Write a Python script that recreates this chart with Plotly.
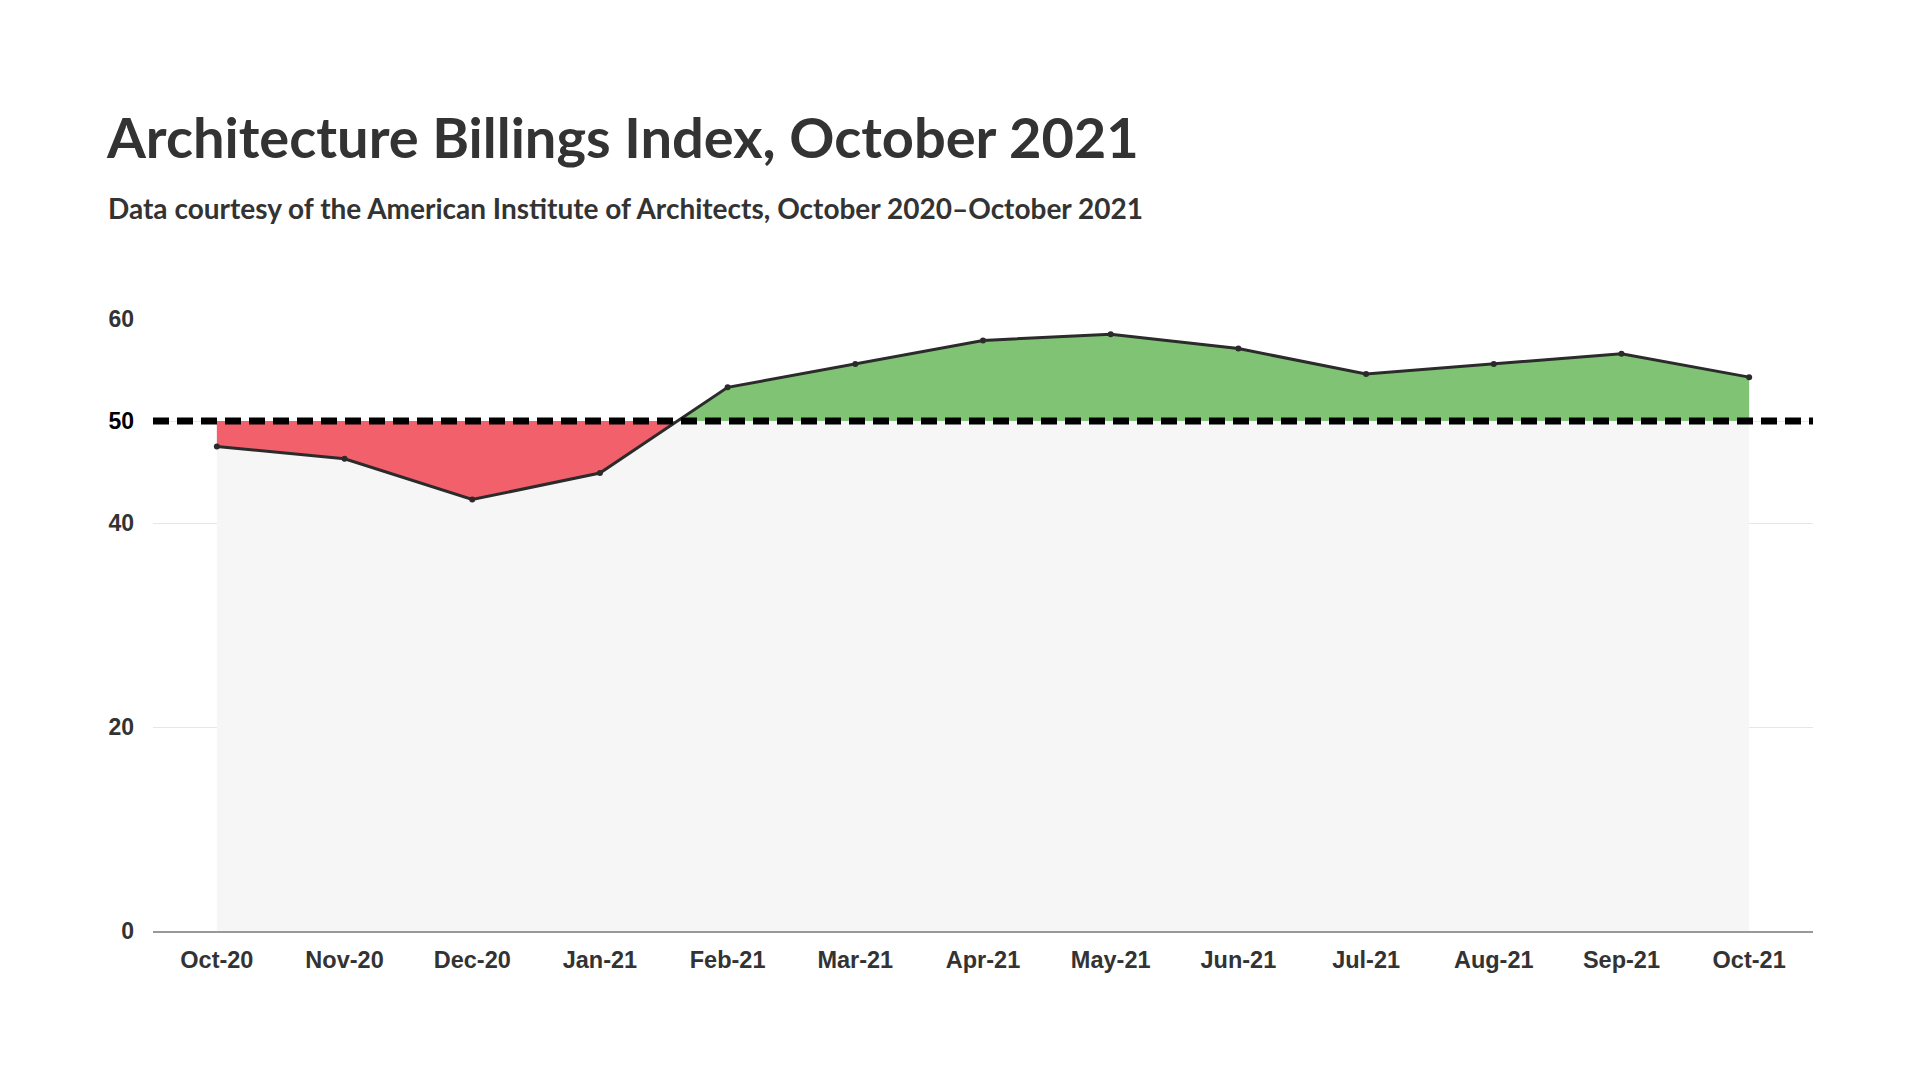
import plotly.graph_objects as go

# ABI values, Oct 2020 - Oct 2021
months = ["Oct-20", "Nov-20", "Dec-20", "Jan-21", "Feb-21", "Mar-21", "Apr-21",
          "May-21", "Jun-21", "Jul-21", "Aug-21", "Sep-21", "Oct-21"]
abi = [47.5, 46.3, 42.3, 44.9, 53.3, 55.6, 57.9, 58.5, 57.1, 54.6, 55.6, 56.6, 54.3]
threshold = 50
y_ticks = [0, 20, 40, 50, 60]

idx = list(range(len(months)))

# split the series where it crosses the 50 line
xs, ys = [], []
for i in idx:
    if i > 0 and (abi[i - 1] - threshold) * (abi[i] - threshold) < 0:
        t = (threshold - abi[i - 1]) / (abi[i] - abi[i - 1])
        xs.append(i - 1 + t)
        ys.append(threshold)
    xs.append(i)
    ys.append(abi[i])

below_x = [x for x, y in zip(xs, ys) if y <= threshold]
below_y = [y for y in ys if y <= threshold]
above_x = [x for x, y in zip(xs, ys) if y >= threshold]
above_y = [y for y in ys if y >= threshold]

fig = go.Figure()

# grey area under the curve (capped at 50)
fig.add_trace(go.Scatter(x=xs, y=[min(y, threshold) for y in ys], mode="lines",
                         line=dict(width=0), fill="tozeroy", fillcolor="#f6f6f6",
                         hoverinfo="skip", showlegend=False))

# red: below 50
fig.add_trace(go.Scatter(x=below_x, y=[threshold] * len(below_x), mode="lines",
                         line=dict(width=0), hoverinfo="skip", showlegend=False))
fig.add_trace(go.Scatter(x=below_x, y=below_y, mode="lines", line=dict(width=0),
                         fill="tonexty", fillcolor="#f2616b",
                         hoverinfo="skip", showlegend=False))

# green: above 50
fig.add_trace(go.Scatter(x=above_x, y=[threshold] * len(above_x), mode="lines",
                         line=dict(width=0), hoverinfo="skip", showlegend=False))
fig.add_trace(go.Scatter(x=above_x, y=above_y, mode="lines",
                         line=dict(width=0), fill="tonexty", fillcolor="#80c374",
                         hoverinfo="skip", showlegend=False))

# the ABI line itself
fig.add_trace(go.Scatter(x=idx, y=abi, mode="lines+markers",
                         line=dict(color="#2b2b2b", width=3),
                         marker=dict(color="#2b2b2b", size=6),
                         showlegend=False))

# 50 reference line
fig.add_shape(type="line", xref="paper", x0=0, x1=1, yref="y", y0=threshold, y1=threshold,
              line=dict(color="black", width=7, dash="16px,8px"), layer="above")

tick_text = ['<span style="color:#000">%d</span>' % v if v == threshold else str(v)
             for v in y_ticks]

fig.update_layout(
    width=1920, height=1080,
    paper_bgcolor="white", plot_bgcolor="white",
    margin=dict(l=145, r=115, t=311, b=157),
    font=dict(family="Liberation Sans, Arial", color="#333333"),
    title=dict(text="<b>Architecture Billings Index, October 2021</b>",
               xref="container", x=99 / 1920, xanchor="left",
               yref="container", y=1 - 130 / 1080, yanchor="middle",
               font=dict(family="Lato", size=56, color="#333333")),
    annotations=[dict(text="<b>Data courtesy of the American Institute of Architects, October 2020–October 2021</b>",
                      xref="paper", yref="paper", x=-47 / 1660, y=1 + 111 / 612,
                      xanchor="left", yanchor="middle", showarrow=False,
                      font=dict(family="Lato", size=28, color="#333333"))],
    xaxis=dict(range=[-0.5, len(months) - 0.5], tickvals=idx, ticktext=months,
               showgrid=False, zeroline=False, showline=True, linecolor="#999999",
               linewidth=1.5, ticks="", ticklabelstandoff=7,
               tickfont=dict(size=23.5, color="#333333", weight="bold")),
    yaxis=dict(range=[0, 60], tickvals=y_ticks, ticktext=tick_text,
               showgrid=True, gridcolor="#e6e6e6", gridwidth=1, zeroline=False,
               showline=False, ticks="", ticklabelstandoff=18,
               tickfont=dict(size=23, color="#333333", weight="bold")),
)

fig.write_html("out.html")
